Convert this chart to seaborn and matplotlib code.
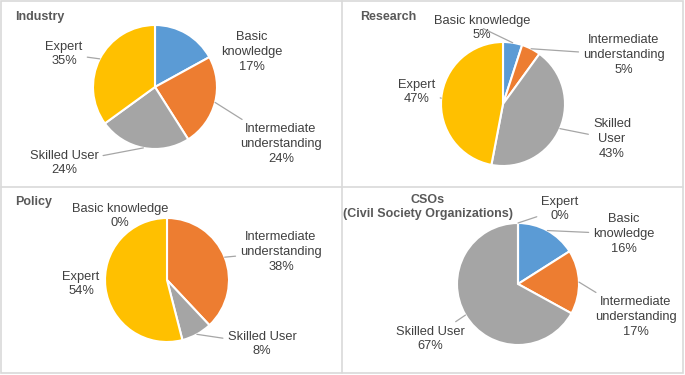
import matplotlib
matplotlib.use("Agg")
import matplotlib.pyplot as plt
import seaborn as sns
import numpy as np
from matplotlib.patches import Rectangle

# ---- data ----
categories = ["Basic knowledge", "Intermediate understanding", "Skilled User", "Expert"]
industry = [17, 24, 24, 35]
research = [5, 5, 43, 47]
policy = [0, 38, 8, 54]
csos = [16, 17, 67, 0]
panel_titles = ["Industry", "Research", "Policy", "CSOs\n(Civil Society Organizations)"]

# label wording (line breaks) per panel
industry_names = ["Basic\nknowledge", "Intermediate\nunderstanding", "Skilled User", "Expert"]
research_names = ["Basic knowledge", "Intermediate\nunderstanding", "Skilled\nUser", "Expert"]
policy_names = ["Basic knowledge", "Intermediate\nunderstanding", "Skilled User", "Expert"]
csos_names = ["Basic\nknowledge", "Intermediate\nunderstanding", "Skilled User", "Expert"]

sns.set_theme(style="white")
plt.rcParams['font.family'] = ['Liberation Sans', 'DejaVu Sans']
palette = sns.color_palette(["#5B9BD5", "#ED7D31", "#A5A5A5", "#FFC000"])

W, H = 685, 375
fig = plt.figure(figsize=(6.85, 3.75), dpi=100)
ax = fig.add_axes([0, 0, 1, 1])
ax.set_xlim(0, W)
ax.set_ylim(0, H)
ax.axis('off')


def Y(y):
    return H - y


# panel frame
grid_c = "#D9D9D9"
ax.add_patch(Rectangle((1, Y(373)), 682, 372, fill=False, edgecolor=grid_c, lw=1.2))
ax.plot([342, 342], [Y(1), Y(373)], color=grid_c, lw=1.2)
ax.plot([1, 683], [Y(187), Y(187)], color=grid_c, lw=1.2)

# layout: center, radius, title pos/align, label positions, leader flags
layouts = [
    dict(vals=industry, names=industry_names, title=panel_titles[0],
         c=(155, 87), r=62, tpos=(15, 17), tha="left",
         lpos=[(252, 52), (281, 144), (64, 163), (64, 54)],
         lead=[False, True, True, True]),
    dict(vals=research, names=research_names, title=panel_titles[1],
         c=(503, 104), r=62, tpos=(360, 17), tha="left",
         lpos=[(482, 28), (624, 55), (612, 139), (417, 92)],
         lead=[True, True, True, True]),
    dict(vals=policy, names=policy_names, title=panel_titles[2],
         c=(167, 280), r=62, tpos=(15, 202), tha="left",
         lpos=[(120, 216), (281, 252), (262, 344), (81, 284)],
         lead=[False, True, True, False]),
    dict(vals=csos, names=csos_names, title=panel_titles[3],
         c=(518, 284), r=61, tpos=(428, 207), tha="center",
         lpos=[(624, 234), (636, 317), (430, 339), (560, 209)],
         lead=[True, True, True, True]),
]

text_c = "#404040"
title_c = "#595959"
lead_c = "#A6A6A6"
fs = 9.3
ls = 1.28

for L in layouts:
    vals = np.array(L["vals"], dtype=float)
    cx, cy = L["c"][0], Y(L["c"][1])
    r = L["r"]
    ax.pie(vals, colors=palette, startangle=90, counterclock=False,
           center=(cx, cy), radius=r, frame=True,
           wedgeprops=dict(edgecolor="white", linewidth=1.5))
    cum = np.cumsum(vals)
    mids = 90 - 360 * (cum - vals / 2) / vals.sum()
    for i, (name, v) in enumerate(zip(L["names"], L["vals"])):
        lx, ly = L["lpos"][i]
        label = f"{name}\n{v}%"
        ang = np.deg2rad(mids[i])
        ex, ey = cx + r * np.cos(ang), cy + r * np.sin(ang)
        if L["lead"][i]:
            ax.annotate(label, xy=(ex, ey), xytext=(lx, Y(ly)),
                        ha="center", va="center", fontsize=fs, color=text_c,
                        linespacing=ls,
                        arrowprops=dict(arrowstyle="-", color=lead_c, lw=0.9,
                                        shrinkA=1, shrinkB=0))
        else:
            ax.text(lx, Y(ly), label, ha="center", va="center", fontsize=fs,
                    color=text_c, linespacing=ls)
    ax.text(L["tpos"][0], Y(L["tpos"][1]), L["title"], ha=L["tha"], va="center",
            fontsize=9, fontweight="bold", color=title_c, linespacing=1.2,
            multialignment="center")

ax.set_xlim(0, W)
ax.set_ylim(0, H)
ax.set_aspect("auto")
ax.axis('off')

fig.savefig("out.png", dpi=100)
